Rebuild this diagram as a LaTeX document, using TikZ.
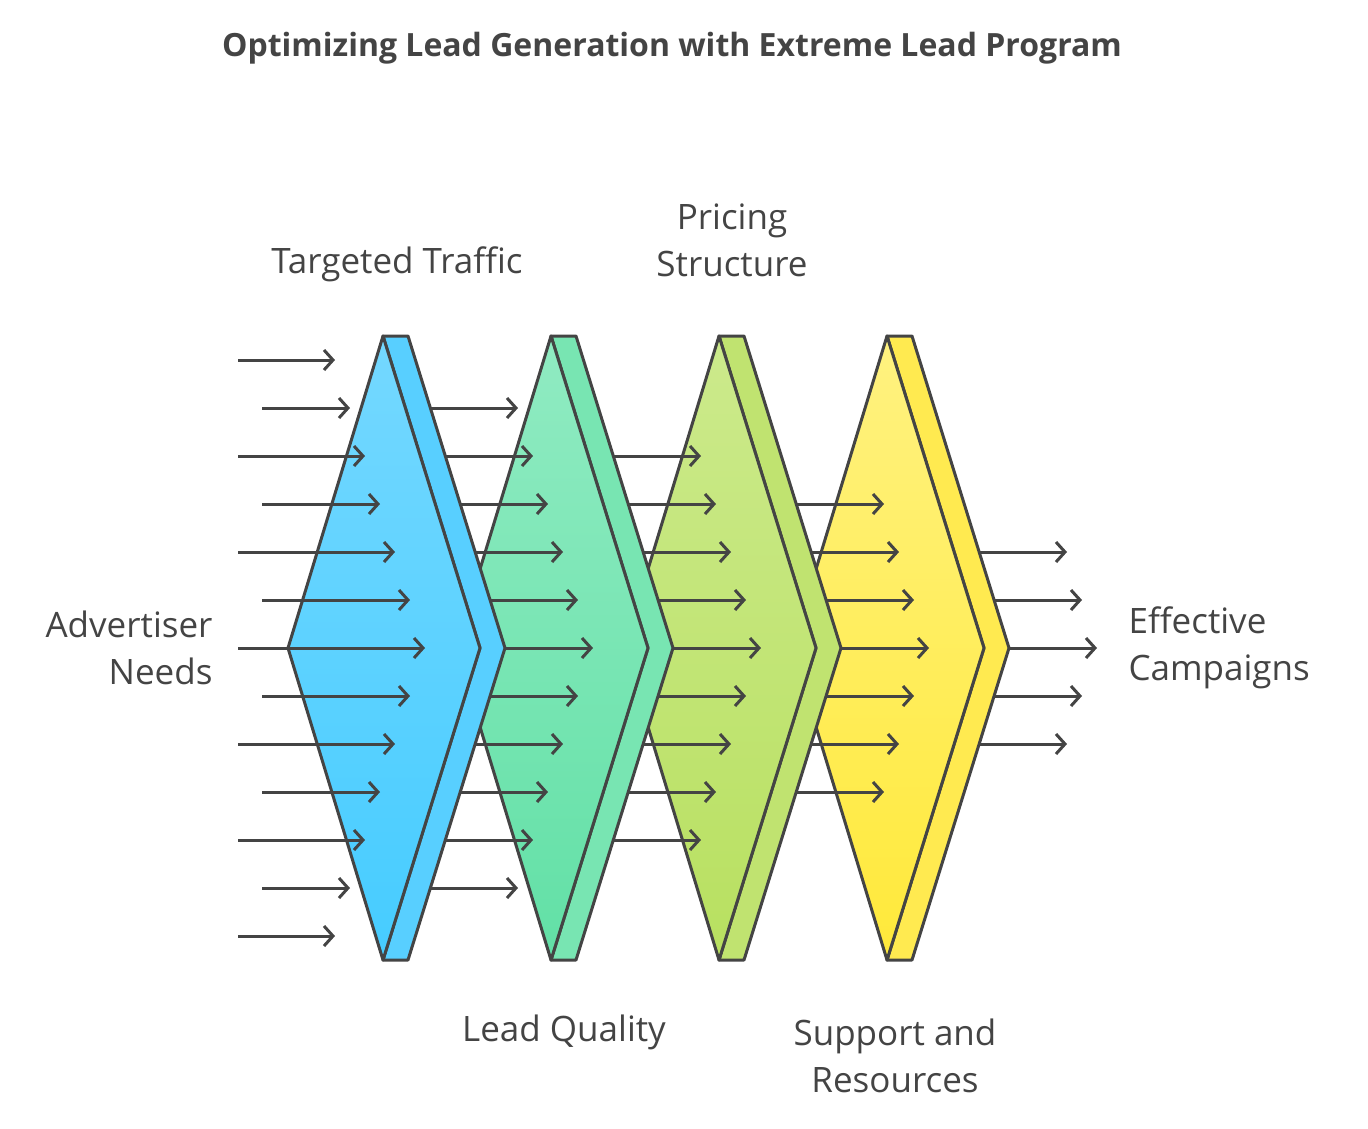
\documentclass[tikz,border=0pt]{standalone}
\usepackage{fontspec}
\setmainfont{Open Sans}
\usetikzlibrary{arrows.meta}
\definecolor{tx}{HTML}{444444}
\tikzset{edge/.style={draw=tx,line width=3pt,line join=round},
arr/.style={draw=tx,line width=3pt,-{Straight Barb[length=9pt,width=20pt,line width=3pt]}},
lbl/.style={text=tx,font=\fontsize{35}{47}\selectfont,align=center}}
\begin{document}
\begin{tikzpicture}[x=1pt,y=-1pt]
\useasboundingbox (0,0) rectangle (1368,1128);
\node[text=tx,font=\bfseries\fontsize{32}{36}\selectfont] (title) at (672,48) {Optimizing Lead Generation with Extreme Lead Program};
\foreach \k/\ta/\tb/\sd in {3/FFF280/FFE93A/FFEA50,2/CCEA8C/B8E060/C0E370,1/90EBC2/62E0A6/78E5B2,0/74D8FF/46CCFF/58CFFF}{
 \pgfmathsetmacro{\dx}{168*\k}
 \definecolor{ta}{HTML}{\ta}\definecolor{tb}{HTML}{\tb}\definecolor{sd}{HTML}{\sd}
 \path[edge,fill=sd] (383+\dx,336)--(408+\dx,336)--(505+\dx,648)--(408+\dx,960)--(383+\dx,960)--(480+\dx,648)--cycle;
 \path[edge,top color=ta,bottom color=tb] (288+\dx,648)--(383+\dx,336)--(480+\dx,648)--(383+\dx,960)--cycle;
}
\foreach \s in {0,...,4}{
 \pgfmathtruncatemacro{\m}{6-\s}
 \foreach \i in {-\m,...,\m}{
  \pgfmathsetmacro{\yy}{648+48*\i}
  \pgfmathsetmacro{\xe}{425+168*\s-15*abs(\i)}
  \ifnum\s=0
   \pgfmathsetmacro{\xs}{mod(\i+6,2)==0 ? 238 : 262}
  \else
   \pgfmathsetmacro{\xs}{505-(97/312)*48*abs(\i)+168*(\s-1)}
  \fi
  \draw[arr] (\xs,\yy) -- (\xe,\yy);
 }
}
\node[lbl] (t1) at (397,264) {Targeted Traffic};
\node[lbl] (t2) at (732,240) {Pricing\\Structure};
\node[lbl] (t3) at (564,1032) {Lead Quality};
\node[lbl] (t4) at (895,1056) {Support and\\Resources};
\node[lbl,align=right,anchor=east] (t5) at (216,648) {Advertiser\\Needs};
\node[lbl,align=left,anchor=west] (t6) at (1125,648) {Effective\\Campaigns};
\end{tikzpicture}
\end{document}
